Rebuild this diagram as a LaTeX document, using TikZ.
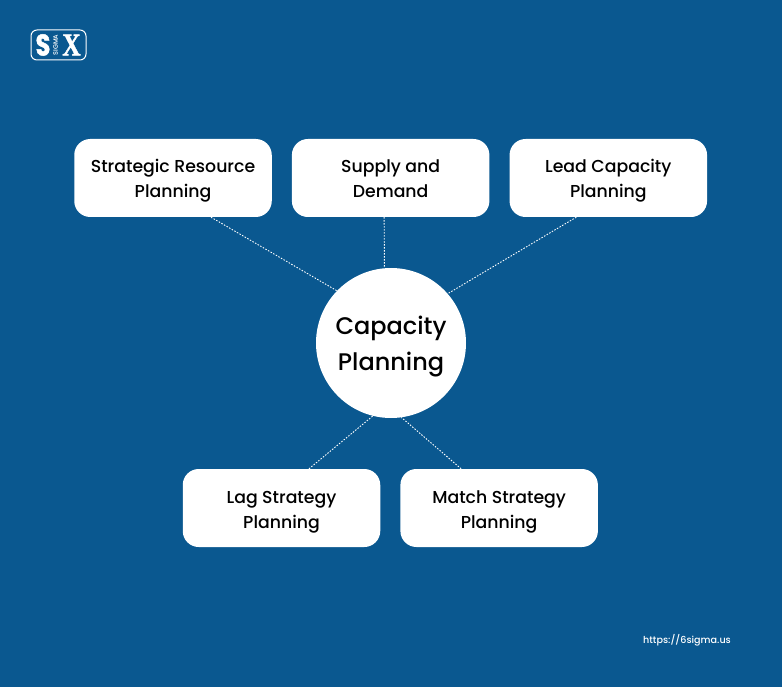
\documentclass[tikz,border=0pt]{standalone}
\usepackage{fontspec}
\setmainfont{Poppins Medium}
\newfontfamily\logofont[FakeBold=1.5]{Liberation Serif Bold}
\newfontfamily\logosans[FakeBold=1.5]{Poppins Bold}
\usetikzlibrary{positioning}
\definecolor{sigmablue}{HTML}{0A5890}
\tikzset{
  topic/.style = {
    fill = white,
    rectangle,
    rounded corners = 16pt,
    anchor = center,
    minimum height = 78pt,
    minimum width = 197.5pt,
    align = center,
    text height = 40pt,
    text depth = 0pt,
    font = \fontsize{17.3}{25}\selectfont,
  },
  spoke/.style = {
    draw = white,
    dash pattern = on 1.5pt off 1.5pt,
    line width = 0.9pt,
  },
}

\begin{document}
\begin{tikzpicture}[x = 1pt, y = -1pt]
        \path [fill = sigmablue, use as bounding box] (0, 0) rectangle (782, 687);

        \node [fill = white, circle, minimum size = 150pt, align = center,
          text height = 54pt, text depth = 0pt,
          font = \fontsize{24}{36}\selectfont] (capacity) at (391, 343) {
          Capacity\\Planning};

        \node [topic] (strategic) at (173, 178) {Strategic Resource\\Planning};
        \node [topic, right = 19.75pt of strategic] (supply) {Supply and\\Demand};
        \node [topic, right = 19.75pt of supply]    (lead) {Lead Capacity\\Planning};
        \node [topic] (lag) at (281.5, 508) {Lag Strategy\\Planning};
        \node [topic, right = 19.75pt of lag]       (match) {Match Strategy\\Planning};

        \draw [spoke] ([xshift = 38pt]strategic.south) -- (capacity.136);
        \draw [spoke] ([xshift = -6.5pt]supply.south)  -- (capacity.95);
        \draw [spoke] ([xshift = -32pt]lead.south)     -- (capacity.41);
        \draw [spoke] ([xshift = 27.5pt]lag.north)     -- (capacity.256);
        \draw [spoke] ([xshift = -38pt]match.north)    -- (capacity.278);

        % logo
        \node [draw = white, line width = 1pt, rounded corners = 6pt,
          minimum width = 55pt, minimum height = 30pt] (logo) at (58.5, 45) {};
        \node [text = white, font = \fontsize{30}{30}\logosans, xscale = 0.8,
          inner sep = 0pt] (logo s) at (43, 45) {S};
        \node [text = white, font = \fontsize{32}{32}\logofont, xscale = 0.8,
          inner sep = 0pt] (logo x) at (71.5, 45) {X};
        \node [text = white, font = \fontsize{6.5}{6.5}\selectfont,
          inner sep = 0pt, rotate = 90] (logo sigma) at (55.5, 45) {SIGMA};

        \node [text = white, font = \fontsize{9.6}{12}\selectfont] (url) at (687, 640.5) {
          https://6sigma.us};
      \end{tikzpicture}
\end{document}
